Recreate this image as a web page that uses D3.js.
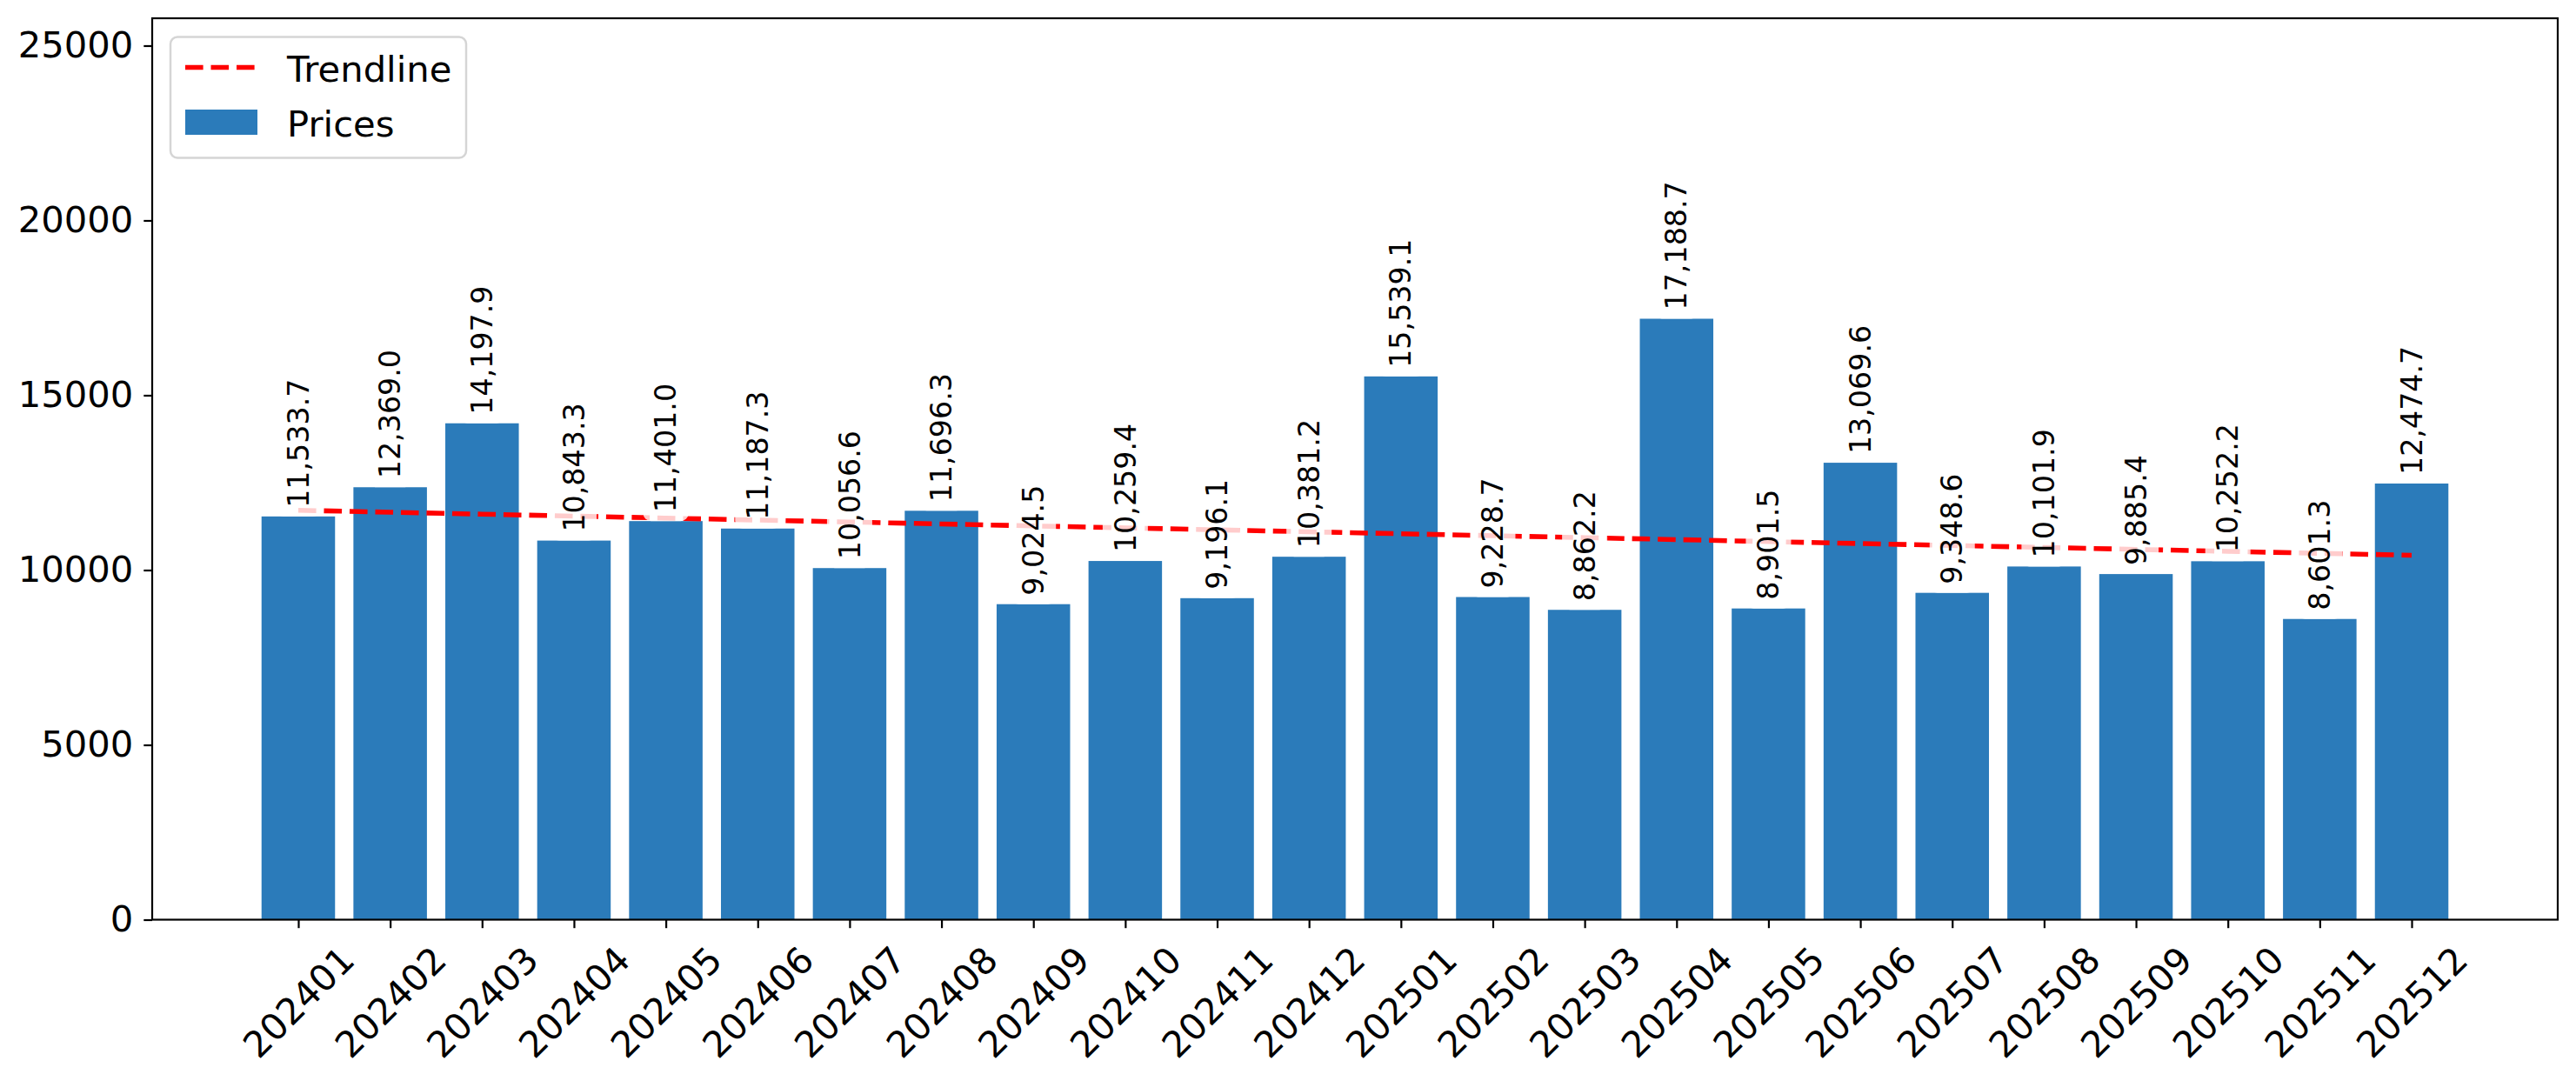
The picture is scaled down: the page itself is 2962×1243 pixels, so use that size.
<!DOCTYPE html>
<html>
<head>
<meta charset="utf-8">
<script src="https://cdn.jsdelivr.net/npm/d3@7"></script>
<style>
  body { margin: 0; background: #fff; }
  svg text { font-family: "DejaVu Sans", sans-serif; }
</style>
</head>
<body>
<svg class="chart"></svg>
<script>
// chart values
const months = ['202401', '202402', '202403', '202404', '202405', '202406',
  '202407', '202408', '202409', '202410', '202411', '202412',
  '202501', '202502', '202503', '202504', '202505', '202506',
  '202507', '202508', '202509', '202510', '202511', '202512']
const prices = [11533.7, 12369.0, 14197.9, 10843.3, 11401.0, 11187.3,
  10056.6, 11696.3, 9024.5, 10259.4, 9196.1, 10381.2,
  15539.1, 9228.7, 8862.2, 17188.7, 8901.5, 13069.6,
  9348.6, 10101.9, 9885.4, 10252.2, 8601.3, 12474.7]
const yTicks = [0, 5000, 10000, 15000, 20000, 25000]
const legendLabels = ['Trendline', 'Prices']

// dimensions
const width = 2962
const height = 1243
const plot = ({left: 175, right: 2941, top: 21, bottom: 1057.5})

const barColor = '#2b7bba'
const tickFont = 41.7
const labelFont = 33.3

const svg = d3.select('svg.chart')
  .attr('width', width)
  .attr('height', height)
  .attr('viewBox', `0 0 ${width} ${height}`)

const data = months.map((m, i) => ({month: m, i: i, price: prices[i]}))

// x like matplotlib bars: width 0.8 plus 5% margins
const n = data.length
const span = (n - 1 + 0.4) - (-0.4)
const xScale = d3.scaleLinear()
  .domain([-0.4 - span * 0.05, n - 1 + 0.4 + span * 0.05])
  .range([plot.left, plot.right])

const yScale = d3.scaleLinear()
  .domain([0, d3.max(prices) * 1.5])
  .range([plot.bottom, plot.top])

// bars
svg.append('g')
  .selectAll('rect.bar')
  .data(data)
  .enter()
  .append('rect')
    .attr('class', 'bar')
    .attr('x', d => xScale(d.i - 0.4))
    .attr('width', d => xScale(d.i + 0.4) - xScale(d.i - 0.4))
    .attr('y', d => yScale(d.price))
    .attr('height', d => yScale(0) - yScale(d.price))
    .attr('fill', barColor)

// least squares trendline
const meanX = d3.mean(data, d => d.i)
const meanY = d3.mean(data, d => d.price)
const slope = d3.sum(data, d => (d.i - meanX) * (d.price - meanY)) /
  d3.sum(data, d => (d.i - meanX) ** 2)
const intercept = meanY - slope * meanX

const trendLine = d3.line()
  .x(d => xScale(d.i))
  .y(d => yScale(intercept + slope * d.i))

svg.append('path')
  .datum(data)
  .attr('d', trendLine)
  .attr('fill', 'none')
  .attr('stroke', '#ff0000')
  .attr('stroke-width', 5.56)
  .attr('stroke-dasharray', '20.6,8.9')

// value labels with a faint white box
const labels = svg.append('g')
  .selectAll('g.label')
  .data(data)
  .enter()
  .append('g')
    .attr('class', 'label')
    .attr('transform', d => `translate(${xScale(d.i)}, ${yScale(d.price) - 10})`)

labels.append('rect')
  .attr('class', 'bg')
  .attr('fill', '#fff')
  .attr('fill-opacity', 0.8)
  .attr('rx', 9)

labels.append('text')
  .attr('transform', 'rotate(-90)')
  .attr('text-anchor', 'start')
  .attr('dy', '0.35em')
  .attr('font-size', labelFont)
  .attr('fill', '#000')
  .text(d => d3.format(',.1f')(d.price))

labels.each(function () {
  const g = d3.select(this)
  const len = g.select('text').node().getComputedTextLength()
  const pad = 10
  g.select('rect.bg')
    .attr('x', -26)
    .attr('width', 52)
    .attr('y', -len - pad)
    .attr('height', len + 2 * pad)
})

// axes
const yAxis = d3.axisLeft(yScale)
  .tickValues(yTicks)
  .tickFormat(d3.format('d'))
  .tickSize(9.7)
  .tickSizeOuter(0)
  .tickPadding(12)

const yAxisGroup = svg.append('g')
  .attr('class', 'yAxis')
  .attr('transform', `translate(${plot.left}, 0)`)
  .call(yAxis)

const xAxis = d3.axisBottom(xScale)
  .tickValues(data.map(d => d.i))
  .tickFormat(i => months[i])
  .tickSize(9.7)
  .tickSizeOuter(0)

const xAxisGroup = svg.append('g')
  .attr('class', 'xAxis')
  .attr('transform', `translate(0, ${plot.bottom})`)
  .call(xAxis)

svg.selectAll('.xAxis .domain, .yAxis .domain').remove()
svg.selectAll('.xAxis line, .yAxis line')
  .attr('stroke', '#000')
  .attr('stroke-width', 2.2)
svg.selectAll('.xAxis text, .yAxis text')
  .attr('font-family', '"DejaVu Sans", sans-serif')
  .attr('font-size', tickFont)
  .attr('fill', '#000')

xAxisGroup.selectAll('text')
  .attr('y', 0)
  .attr('dy', '0.35em')
  .attr('text-anchor', 'middle')
  .attr('transform', 'translate(0, 95) rotate(-45)')

// frame
svg.append('rect')
  .attr('x', plot.left)
  .attr('y', plot.top)
  .attr('width', plot.right - plot.left)
  .attr('height', plot.bottom - plot.top)
  .attr('fill', 'none')
  .attr('stroke', '#000')
  .attr('stroke-width', 2.2)

// legend
const legend = svg.append('g').attr('class', 'legend')

legend.append('rect')
  .attr('x', 196)
  .attr('y', 42.5)
  .attr('width', 340)
  .attr('height', 139)
  .attr('rx', 8)
  .attr('fill', '#fff')
  .attr('fill-opacity', 0.8)
  .attr('stroke', '#d5d5d5')
  .attr('stroke-width', 2.5)

legend.append('line')
  .attr('x1', 213)
  .attr('x2', 296)
  .attr('y1', 77.5)
  .attr('y2', 77.5)
  .attr('stroke', '#ff0000')
  .attr('stroke-width', 5.56)
  .attr('stroke-dasharray', '20.6,8.9')

legend.append('rect')
  .attr('x', 213)
  .attr('y', 126)
  .attr('width', 83)
  .attr('height', 29)
  .attr('fill', barColor)

legend.selectAll('text')
  .data(legendLabels)
  .enter()
  .append('text')
    .attr('x', 330)
    .attr('y', (d, i) => 93.5 + i * 63.4)
    .attr('font-size', tickFont)
    .attr('fill', '#000')
    .text(d => d)
</script>
</body>
</html>
